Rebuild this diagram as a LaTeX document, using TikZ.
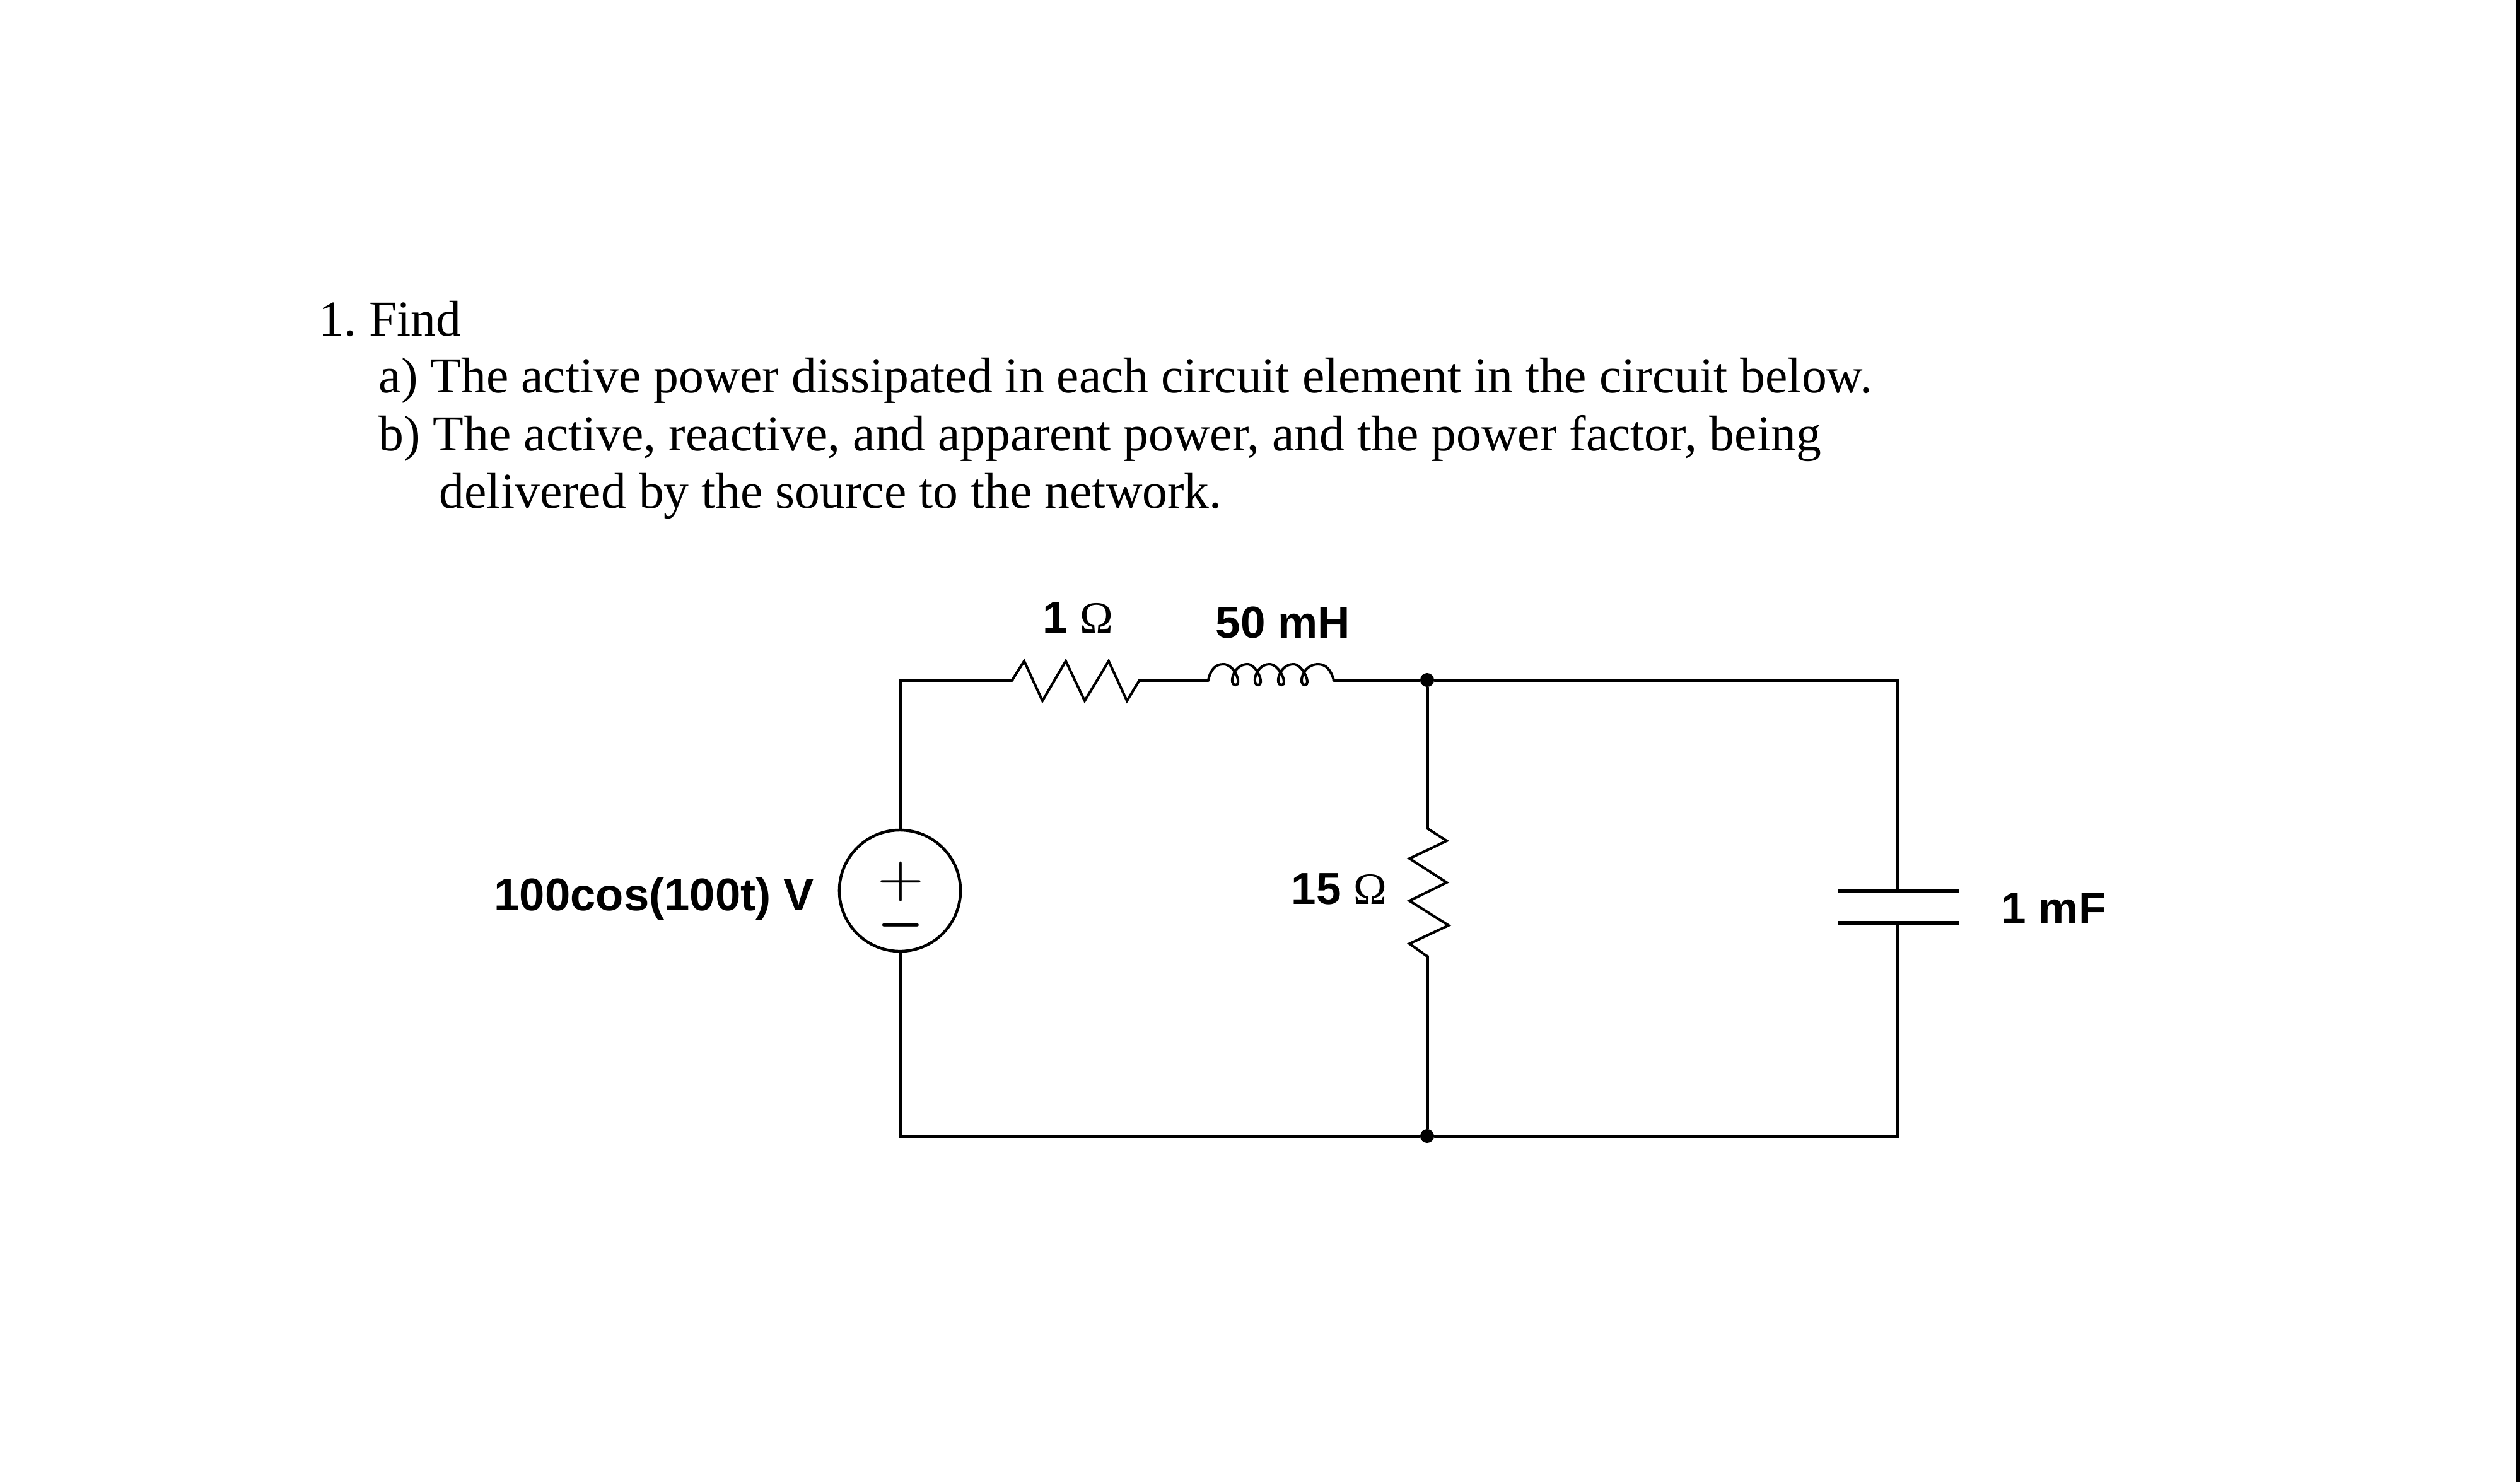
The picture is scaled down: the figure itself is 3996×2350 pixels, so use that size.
\documentclass[tikz,border=0pt]{standalone}
\usepackage{fontspec}
\setmainfont{Liberation Serif}
\setsansfont{Liberation Sans}
\begin{document}
\begin{tikzpicture}[x=0.01cm,y=-0.01cm,
    wire/.style={line width=0.05cm,line join=miter,line cap=round},
    elem/.style={line width=0.04cm,line join=miter},
    plate/.style={line width=0.055cm},
    dot/.style={circle,fill=black,inner sep=0pt,minimum size=0.22cm},
    sign/.style={inner sep=0pt},
    task/.style={anchor=base west,inner sep=0pt,font=\fontsize{22.65}{27}\selectfont},
    val/.style={anchor=base west,inner sep=0pt,font=\fontsize{20.2}{24}\selectfont\sffamily\bfseries}]
    \useasboundingbox (0,0) rectangle (3996,2350);
    \fill[white] (0,0) rectangle (3996,2350);
    \fill[black] (3990,0) rectangle (3996,2350);

    % Aufgabentext
    \node[task] (t1) at (505,532) {1.\ Find};
    \node[task] (t2) at (600,622) {a) The active power dissipated in each circuit element in the circuit below.};
    \node[task] (t3) at (600,714) {b) The active, reactive, and apparent power, and the power factor, being};
    \node[task] (t4) at (696,805) {delivered by the source to the network.};

    % Eckpunkte
    \coordinate (tl) at (1427,1078);
    \coordinate (tr) at (3009,1078);
    \coordinate (bl) at (1427,1801);
    \coordinate (br) at (3009,1801);
    \node[dot] (top) at (2263,1078) {};
    \node[dot] (bot) at (2263,1801) {};

    % Quelle
    \node[circle,draw,line width=0.045cm,minimum size=1.92cm,inner sep=0pt] (src) at (1427,1412) {};
    \node[sign,scale=2.7] (plus) at (1428,1398) {$+$};
    \node[sign,scale=2.35,font=\boldmath] (minus) at (1428,1467) {$-$};
    \node[val,font=\fontsize{20.6}{24}\selectfont\sffamily\bfseries] (lsrc) at (783,1443) {100cos(100t) V};

    % Widerstand 1 Ohm
    \coordinate (r1a) at (1605,1078);
    \coordinate (r1b) at (1807,1078);
    \draw[elem] (r1a) -- (1624,1048) -- (1653,1111) -- (1690,1048) -- (1720,1111)
        -- (1758,1048) -- (1787,1111) -- (r1b);
    \node[val] (lr1) at (1653,1003) {1 {\rmfamily\mdseries Ω}};

    % Spule
    \coordinate (l1a) at (1916,1078);
    \coordinate (l1b) at (2115,1078);
    \draw[elem] (l1a) .. controls (1920,1060) and (1928,1053) .. (1940,1053)
        .. controls (1958,1053) and (1970,1086) .. (1959,1086)
        .. controls (1948,1086) and (1955,1053) .. (1978,1053)
        .. controls (1993,1053) and (2006,1086) .. (1995,1086)
        .. controls (1984,1086) and (1991,1053) .. (2013,1053)
        .. controls (2029,1053) and (2043,1086) .. (2032,1086)
        .. controls (2021,1086) and (2028,1053) .. (2051,1053)
        .. controls (2066,1053) and (2080,1086) .. (2069,1086)
        .. controls (2058,1086) and (2065,1053) .. (2090,1053)
        .. controls (2103,1053) and (2110,1062) .. (l1b);
    \node[val] (ll1) at (1927,1011) {50 mH};

    % Widerstand 15 Ohm
    \coordinate (r2a) at (2263,1313);
    \coordinate (r2b) at (2263,1516);
    \draw[elem] (r2a) -- (2294,1333) -- (2235,1361) -- (2294,1399) -- (2235,1428)
        -- (2297,1467) -- (2235,1496) -- (r2b);
    \node[val] (lr2) at (2047,1433) {15 {\rmfamily\mdseries Ω}};

    % Kondensator
    \coordinate (c1) at (3009,1412);
    \coordinate (c2) at (3009,1463);
    \draw[plate] (2915,1412) -- (c1) -- (3106,1412);
    \draw[plate] (2915,1463) -- (c2) -- (3106,1463);
    \node[val] (lc) at (3173,1464) {1 mF};

    % Leitungen
    \draw[wire] (src.north) -- (tl) -- (r1a);
    \draw[wire] (r1b) -- (l1a);
    \draw[wire] (l1b) -- (top);
    \draw[wire] (top) -- (tr) -- (c1);
    \draw[wire] (c2) -- (br) -- (bot);
    \draw[wire] (bot) -- (bl) -- (src.south);
    \draw[wire] (top) -- (r2a);
    \draw[wire] (r2b) -- (bot);
\end{tikzpicture}
\end{document}
